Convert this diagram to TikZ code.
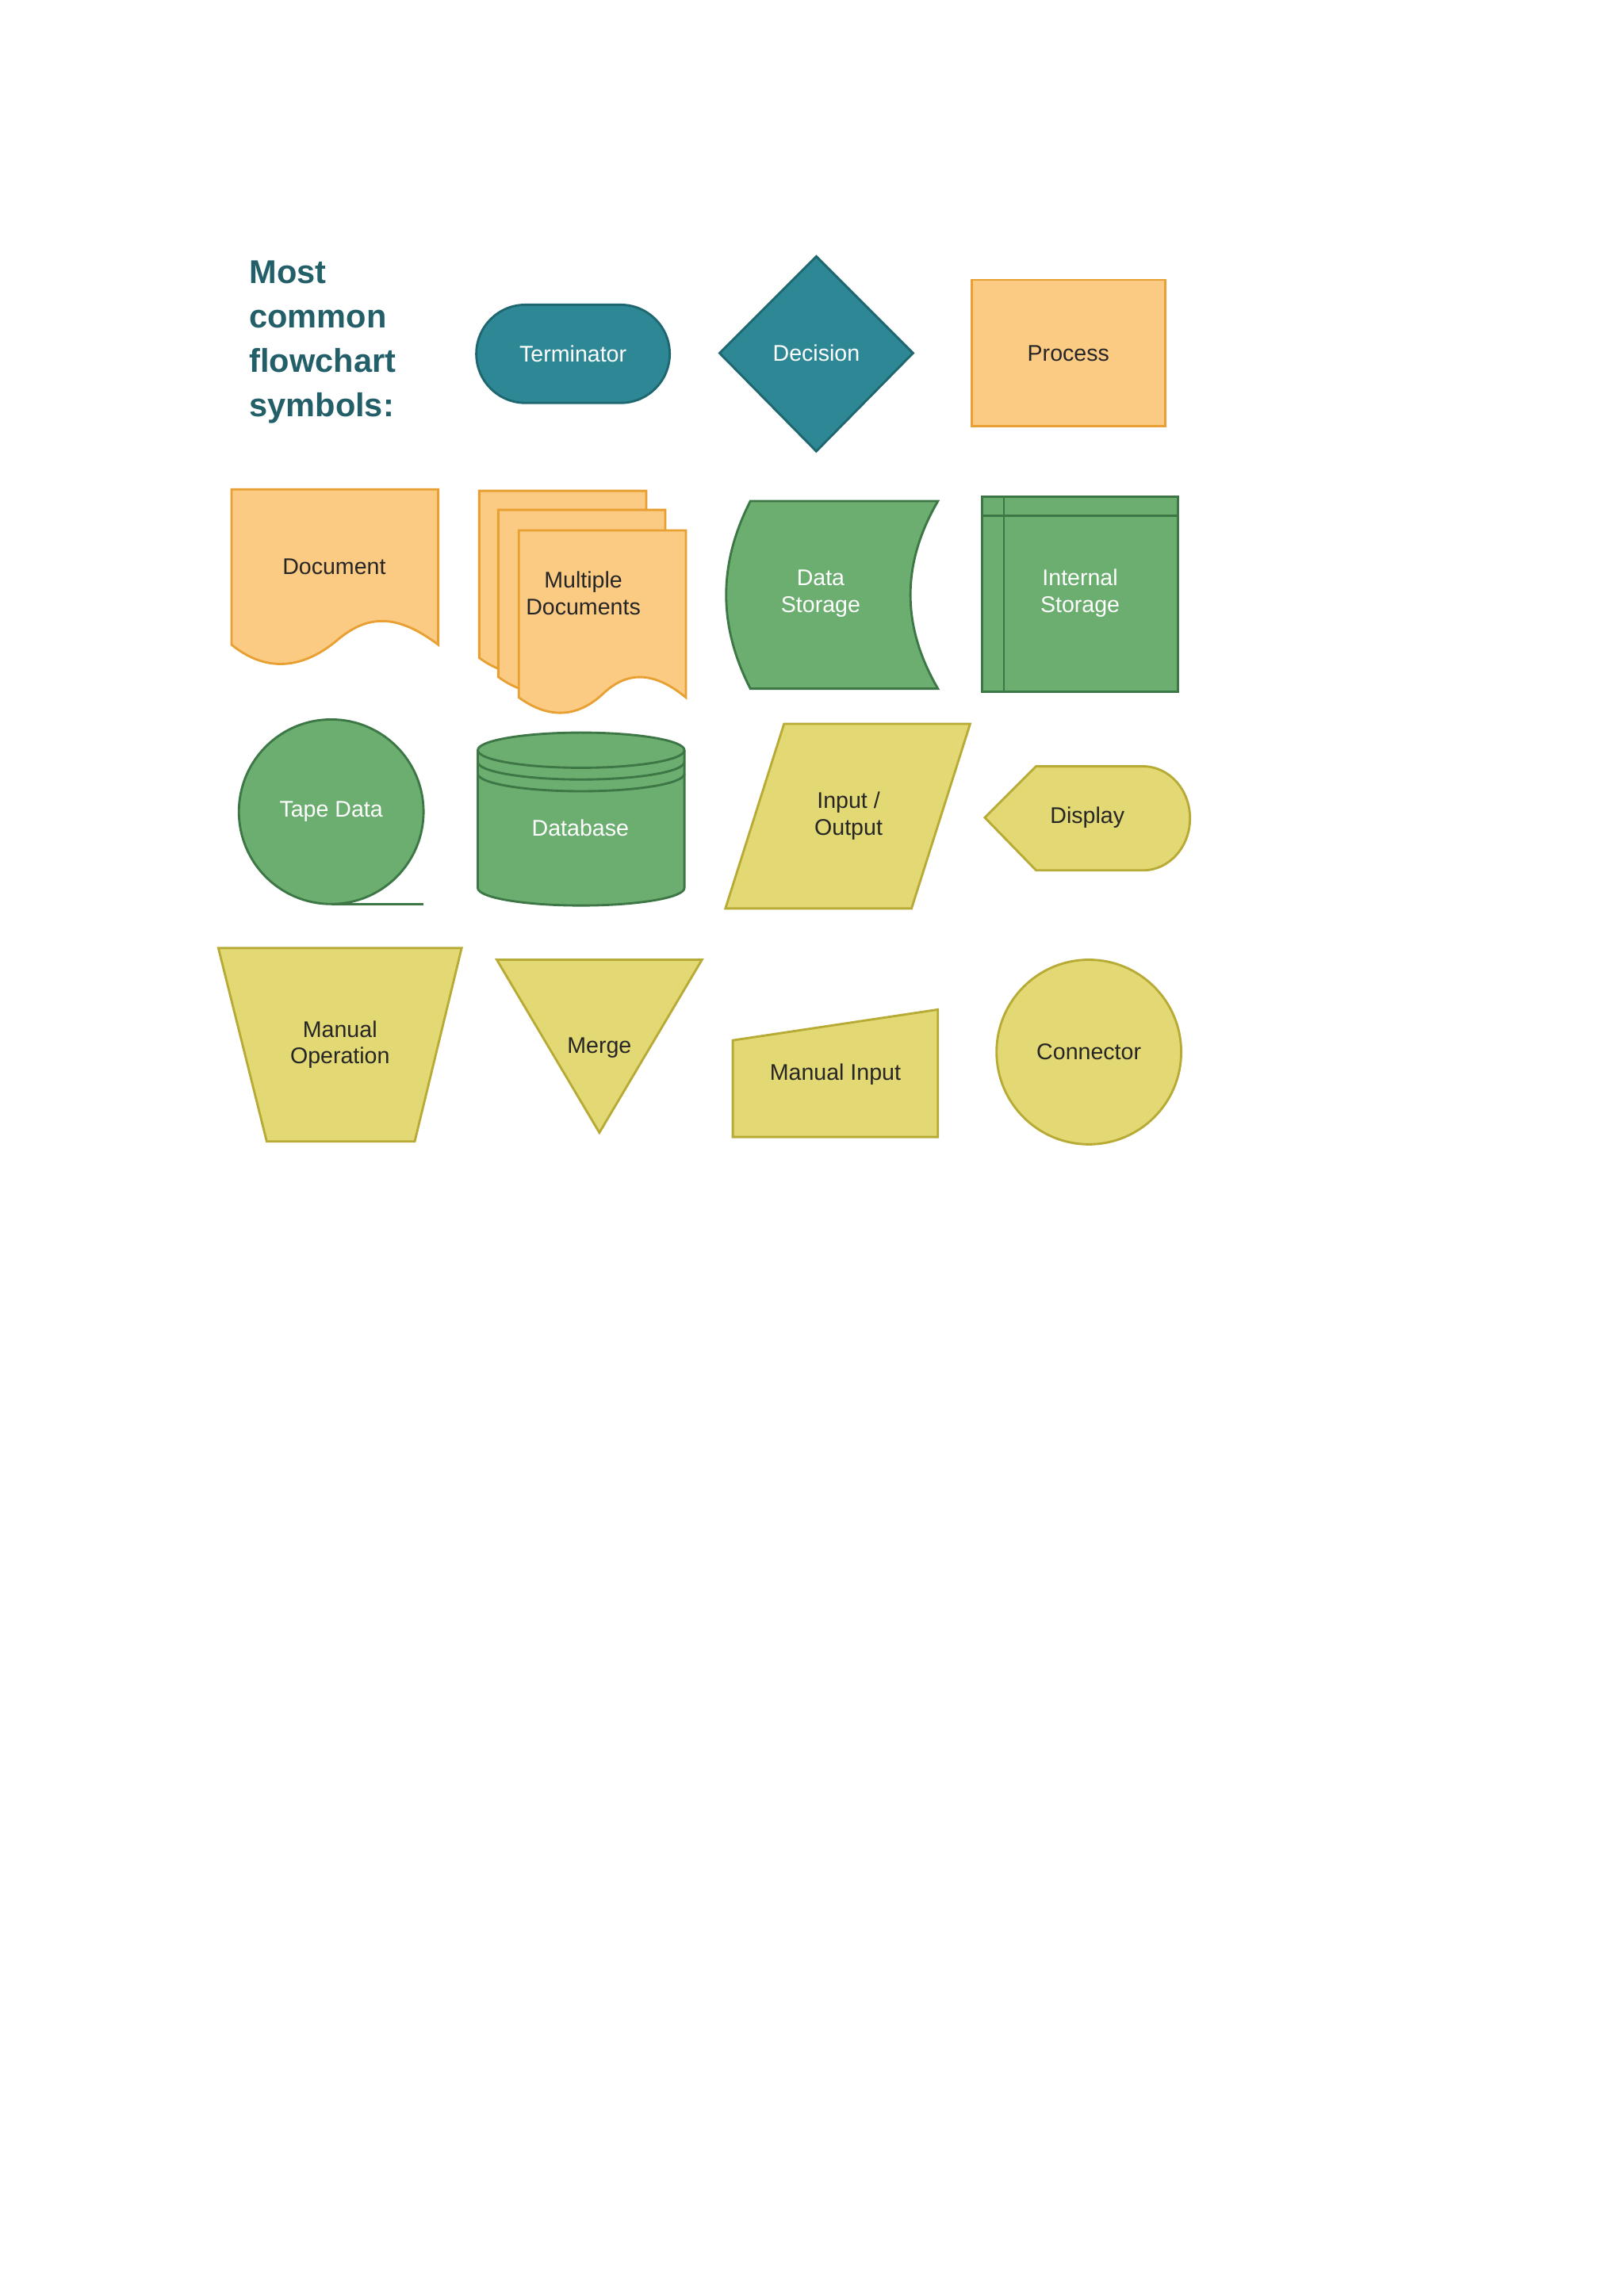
\documentclass[tikz,border=0pt]{standalone}
\usepackage{fontspec}
\setmainfont{Liberation Sans}
\definecolor{teal1}{HTML}{2E8794}
\definecolor{teal2}{HTML}{1E6670}
\definecolor{or1}{HTML}{FBCB84}
\definecolor{or2}{HTML}{E9A033}
\definecolor{gr1}{HTML}{6CAD70}
\definecolor{gr2}{HTML}{3C7745}
\definecolor{ye1}{HTML}{E2D874}
\definecolor{ye2}{HTML}{B8AB35}
\definecolor{titlec}{HTML}{235F68}
\begin{document}
\begin{tikzpicture}[x=0.05cm,y=-0.05cm,
  lab/.style={font=\fontsize{22}{26}\selectfont,align=center,inner sep=0pt},
  tealS/.style={fill=teal1,draw=teal2,line width=2.2pt},
  orS/.style={fill=or1,draw=or2,line width=2.2pt},
  grS/.style={fill=gr1,draw=gr2,line width=2.2pt},
  yeS/.style={fill=ye1,draw=ye2,line width=2.2pt},
  wt/.style={lab,text=white},
  dk/.style={lab,text=black!85}]
\useasboundingbox[fill=white] (0,0) rectangle (1108,1567);
% title
\node[anchor=north west,align=left,text=titlec,inner sep=0pt,font=\bfseries\fontsize{32}{43}\selectfont] (title) at (170,178) {Most\\common\\flowchart\\symbols:};
% terminator
\draw[tealS,rounded corners=33.5*0.05cm] (325,208) rectangle (457,275);
\node[wt] (term) at (391,241.5) {Terminator};
% decision
\draw[tealS] (557,175) -- (623,241) -- (557,308) -- (491,241) -- cycle;
\node[wt] (dec) at (557,241) {Decision};
% process
\draw[orS] (663,191) rectangle (795,291);
\node[dk] (proc) at (729,241) {Process};
% document
\draw[orS] (158,334) -- (299,334) -- (299,440) .. controls (270,418) and (250,420) .. (230,437) .. controls (205,458) and (180,458) .. (158,440) -- cycle;
\node[dk] (doc) at (228,387) {Document};
% multiple documents
\foreach \dx/\dy in {0/0,13/13,27/27}{
\draw[orS] (327+\dx,335+\dy) -- (441+\dx,335+\dy) -- (441+\dx,449+\dy) .. controls (418+\dx,430+\dy) and (400+\dx,432+\dy) .. (385+\dx,446+\dy) .. controls (365+\dx,465+\dy) and (345+\dx,462+\dy) .. (327+\dx,449+\dy) -- cycle;}
\node[dk] (mdoc) at (398,405) {Multiple\\Documents};
% data storage
\draw[grS] (512,342) -- (640,342) .. controls (615,385) and (615,427) .. (640,470) -- (512,470) .. controls (490,427) and (490,385) .. (512,342) -- cycle;
\node[wt] (ds) at (560,405) {Data\\Storage};
% internal storage
\draw[grS] (670,339) rectangle (804,472);
\draw[draw=gr2,line width=2.2pt] (685,339) -- (685,472) (670,352) -- (804,352);
\node[wt] (is) at (737,405) {Internal\\Storage};
% tape data
\draw[grS] (226,554) circle (63*0.05cm);
\draw[draw=gr2,line width=2.2pt] (226,617) -- (289,617);
\node[wt] (tape) at (226,554) {Tape Data};
% database
\draw[grS] (326,512) -- (326,606) arc[start angle=180,end angle=360,x radius=70.5*0.05cm,y radius=12*0.05cm] -- (467,512) arc[start angle=0,end angle=180,x radius=70.5*0.05cm,y radius=12*0.05cm];
\foreach \o in {0,8,16}{
\draw[draw=gr2,line width=2.2pt] (326,512+\o) arc[start angle=180,end angle=360,x radius=70.5*0.05cm,y radius=12*0.05cm];}
\node[wt] (db) at (396,565) {Database};
% input/output
\draw[yeS] (535,494) -- (662,494) -- (622,620) -- (495,620) -- cycle;
\node[dk] (io) at (579,557) {Input /\\Output};
% display
\draw[yeS] (672,558) -- (707,523) -- (780,523) arc[start angle=90,end angle=-90,x radius=32*0.05cm,y radius=35.5*0.05cm] -- (707,594) -- cycle;
\node[dk] (disp) at (742,558) {Display};
% manual operation
\draw[yeS] (149,647) -- (315,647) -- (283,779) -- (182,779) -- cycle;
\node[dk] (mo) at (232,713) {Manual\\Operation};
% merge
\draw[yeS] (339,655) -- (479,655) -- (409,773) -- cycle;
\node[dk] (merge) at (409,715) {Merge};
% manual input
\draw[yeS] (500,710) -- (640,689) -- (640,776) -- (500,776) -- cycle;
\node[dk] (mi) at (570,733) {Manual Input};
% connector
\draw[yeS] (743,718) circle (63*0.05cm);
\node[dk] (conn) at (743,718) {Connector};
\end{tikzpicture}
\end{document}
